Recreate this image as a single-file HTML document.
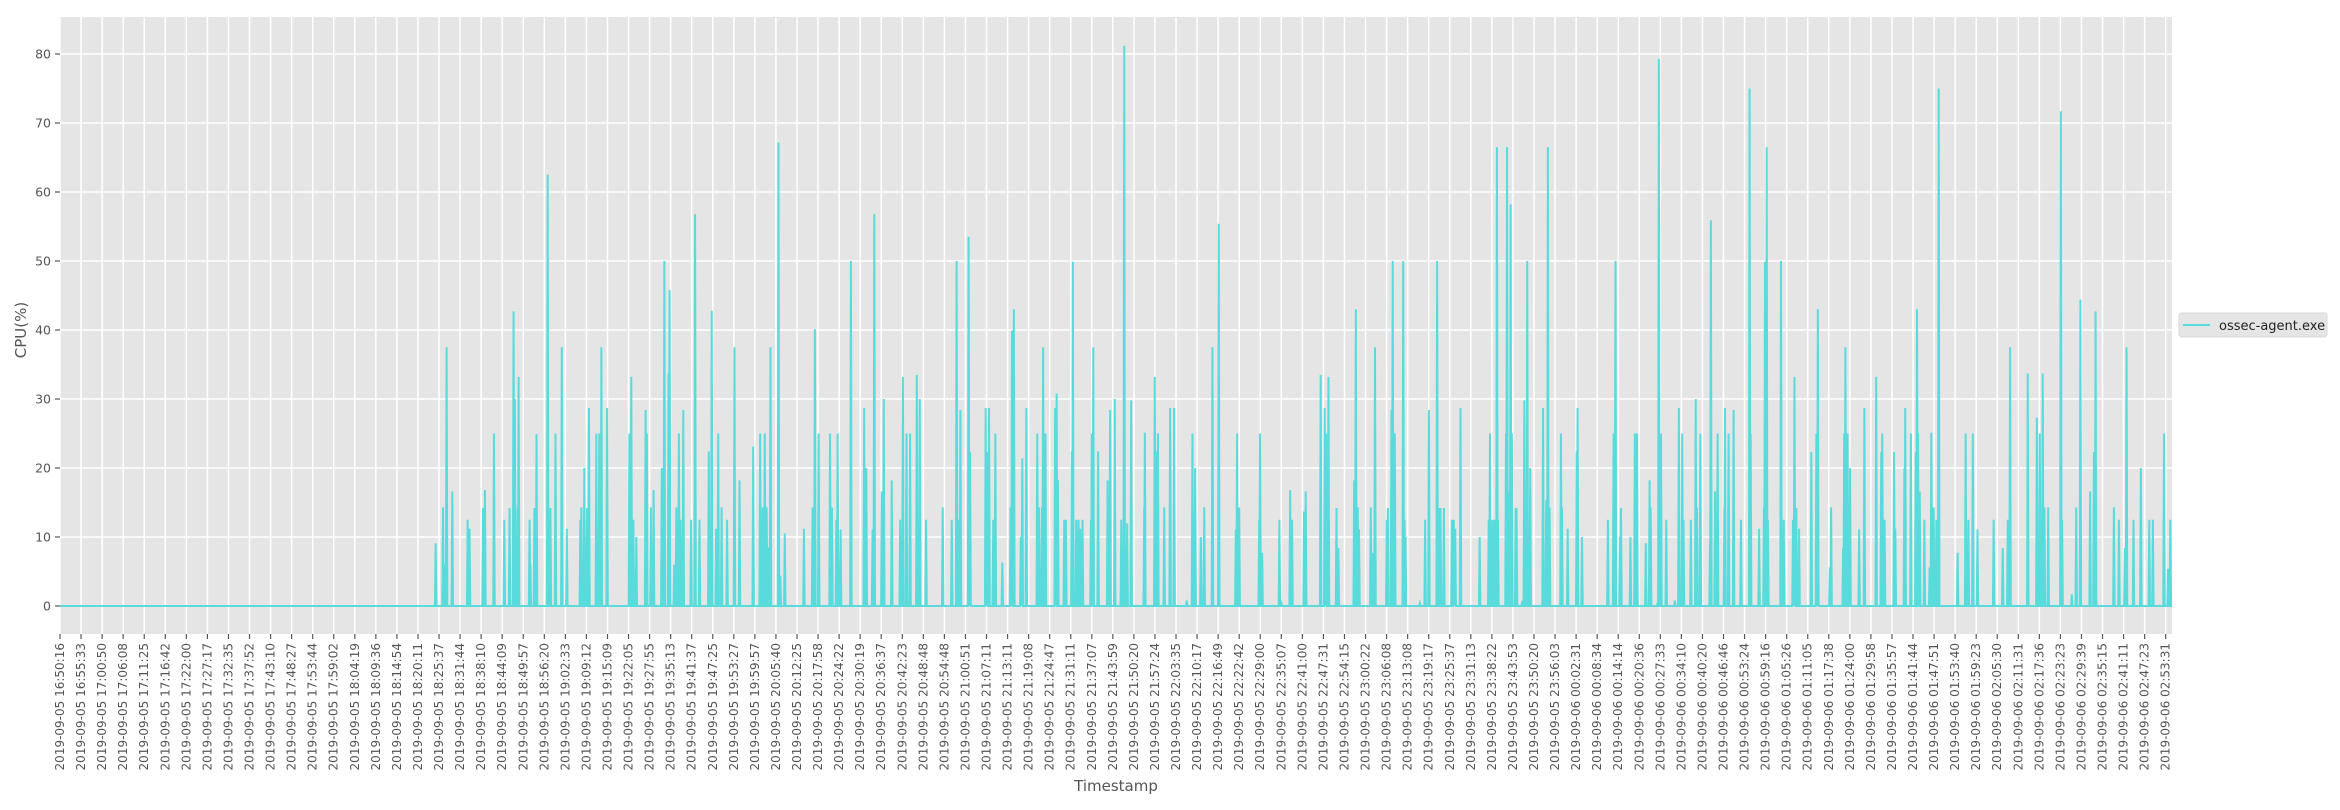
<!DOCTYPE html>
<html><head><meta charset="utf-8"><style>
html,body{margin:0;padding:0;background:#fff;}
svg{display:block;font-family:"DejaVu Sans","Liberation Sans",sans-serif;}
</style></head><body>
<svg id="chart" width="2340" height="810" viewBox="0 0 2340 810" xmlns="http://www.w3.org/2000/svg">
<rect x="60" y="17" width="2112" height="617" fill="#e5e5e5"/>
<g id="grid"></g>
<g id="xaxis"></g>
<g id="yaxis"></g>
<path id="series" fill="none" stroke="#59dbdb" stroke-width="2" stroke-linejoin="miter"/>
<text x="1116" y="791" font-size="15" fill="#555" text-anchor="middle">Timestamp</text>
<text x="26" y="330" font-size="15" fill="#555" text-anchor="middle" transform="rotate(-90 26 330)">CPU(%)</text>
<g>
<rect x="2179" y="313" width="148" height="24" rx="3" fill="#e5e5e5" stroke="#d8d8d8"/>
<line x1="2183" y1="325" x2="2210" y2="325" stroke="#59dbdb" stroke-width="2"/>
<text x="2219" y="330" font-size="13" fill="#222">ossec-agent.exe</text>
</g>
</svg>
<script>
const tickLabels = ["2019-09-05 16:50:16","2019-09-05 16:55:33","2019-09-05 17:00:50","2019-09-05 17:06:08","2019-09-05 17:11:25","2019-09-05 17:16:42","2019-09-05 17:22:00","2019-09-05 17:27:17","2019-09-05 17:32:35","2019-09-05 17:37:52","2019-09-05 17:43:10","2019-09-05 17:48:27","2019-09-05 17:53:44","2019-09-05 17:59:02","2019-09-05 18:04:19","2019-09-05 18:09:36","2019-09-05 18:14:54","2019-09-05 18:20:11","2019-09-05 18:25:37","2019-09-05 18:31:44","2019-09-05 18:38:10","2019-09-05 18:44:09","2019-09-05 18:49:57","2019-09-05 18:56:20","2019-09-05 19:02:33","2019-09-05 19:09:12","2019-09-05 19:15:09","2019-09-05 19:22:05","2019-09-05 19:27:55","2019-09-05 19:35:13","2019-09-05 19:41:37","2019-09-05 19:47:25","2019-09-05 19:53:27","2019-09-05 19:59:57","2019-09-05 20:05:40","2019-09-05 20:12:25","2019-09-05 20:17:58","2019-09-05 20:24:22","2019-09-05 20:30:19","2019-09-05 20:36:37","2019-09-05 20:42:23","2019-09-05 20:48:48","2019-09-05 20:54:48","2019-09-05 21:00:51","2019-09-05 21:07:11","2019-09-05 21:13:11","2019-09-05 21:19:08","2019-09-05 21:24:47","2019-09-05 21:31:11","2019-09-05 21:37:07","2019-09-05 21:43:59","2019-09-05 21:50:20","2019-09-05 21:57:24","2019-09-05 22:03:35","2019-09-05 22:10:17","2019-09-05 22:16:49","2019-09-05 22:22:42","2019-09-05 22:29:00","2019-09-05 22:35:07","2019-09-05 22:41:00","2019-09-05 22:47:31","2019-09-05 22:54:15","2019-09-05 23:00:22","2019-09-05 23:06:08","2019-09-05 23:13:08","2019-09-05 23:19:17","2019-09-05 23:25:37","2019-09-05 23:31:13","2019-09-05 23:38:22","2019-09-05 23:43:53","2019-09-05 23:50:20","2019-09-05 23:56:03","2019-09-06 00:02:31","2019-09-06 00:08:34","2019-09-06 00:14:14","2019-09-06 00:20:36","2019-09-06 00:27:33","2019-09-06 00:34:10","2019-09-06 00:40:20","2019-09-06 00:46:46","2019-09-06 00:53:24","2019-09-06 00:59:16","2019-09-06 01:05:26","2019-09-06 01:11:05","2019-09-06 01:17:38","2019-09-06 01:24:00","2019-09-06 01:29:58","2019-09-06 01:35:57","2019-09-06 01:41:44","2019-09-06 01:47:51","2019-09-06 01:53:40","2019-09-06 01:59:23","2019-09-06 02:05:30","2019-09-06 02:11:31","2019-09-06 02:17:36","2019-09-06 02:23:23","2019-09-06 02:29:39","2019-09-06 02:35:15","2019-09-06 02:41:11","2019-09-06 02:47:23","2019-09-06 02:53:31"];
const yTicks = [0,10,20,30,40,50,60,70,80];
// spike positions (in tick-interval units from first timestamp) and CPU values
const spikePos = [17.84,18.19,18.28,18.36,18.63,19.36,19.45,20.09,20.18,20.61,21.1,21.35,21.54,21.6,21.73,21.78,22.3,22.34,22.53,22.63,23.16,23.29,23.53,23.83,24.07,24.71,24.76,24.9,25.03,25.12,25.47,25.61,25.71,25.98,27.04,27.13,27.23,27.37,27.81,27.87,28.06,28.19,28.58,28.7,28.9,28.95,29.17,29.27,29.39,29.47,29.6,29.97,30.16,30.37,30.81,30.95,
31.16,31.26,31.42,31.68,32.03,32.27,32.92,33.25,33.37,33.47,33.56,33.66,33.74,34.12,34.21,34.42,35.33,35.74,35.85,36.03,36.57,36.66,36.87,36.93,37.07,37.56,38.19,38.29,38.59,38.67,39.03,39.12,39.5,39.9,40.03,40.2,40.37,40.69,40.83,41.13,41.92,42.35,42.58,42.68,42.76,43.15,43.22,43.96,44.03,44.12,44.32,44.42,44.75,
45.14,45.21,45.3,45.63,45.7,45.89,46.41,46.49,46.63,46.69,46.8,47.26,47.33,47.39,47.69,47.77,48.05,48.1,48.26,48.37,48.45,48.56,48.96,49.0,49.07,49.3,49.75,49.87,50.09,50.4,50.54,50.68,50.87,51.49,51.52,51.99,52.04,52.14,52.44,52.72,52.91,53.51,53.78,53.91,54.18,54.34,54.73,55.03,55.84,55.9,56.0,56.95,56.99,57.09,57.91,58.0,58.42,58.51,
59.08,59.16,59.87,60.06,60.13,60.24,60.62,60.71,61.46,61.54,61.63,61.69,62.25,62.36,62.45,63.01,63.06,63.23,63.29,63.39,63.79,63.85,63.9,64.58,64.83,65.01,65.4,65.48,65.56,65.72,66.1,66.19,66.26,66.51,67.42,67.85,67.91,68.03,68.13,68.24,68.29,68.67,68.72,68.78,68.89,68.95,69.13,69.17,69.43,69.54,69.68,69.78,69.82,70.43,70.58,70.66,70.74,71.28,71.33,71.6,72.03,72.07,72.28,
73.51,73.78,73.87,74.08,74.13,74.58,74.79,74.89,75.31,75.49,75.54,75.87,75.93,76.03,76.28,76.69,76.88,77.04,77.1,77.45,77.68,77.74,77.9,78.36,78.4,78.6,78.72,79.04,79.07,79.24,79.48,79.83,80.24,80.29,80.69,80.92,80.97,81.05,81.11,81.73,81.86,82.3,82.37,82.46,82.59,83.17,83.41,83.48,84.05,84.11,84.68,84.73,84.79,84.89,85.01,85.44,85.69,86.25,
86.49,86.54,86.65,87.1,87.16,87.59,87.63,87.9,88.13,88.19,88.24,88.32,88.54,88.79,88.87,88.98,89.11,89.22,90.12,90.5,90.63,90.84,91.06,91.83,92.26,92.5,92.61,93.45,93.88,94.02,94.16,94.24,94.42,95.02,95.08,95.54,95.75,95.95,96.41,96.59,96.67,97.54,97.78,98.06,98.14,98.47,98.82,99.22,99.39,99.92,100.11,100.22];
const spikeVal = [9.1,14.3,6,37.5,16.6,12.5,11.2,14.2,16.8,25,12.5,14.2,42.7,30,14.3,33.2,12.5,6,14.2,24.9,62.5,14.2,25,37.5,11.2,12.5,14.3,20,14.2,28.7,25,25,37.5,28.7,25,33.2,12.5,10,28.4,25,14.3,16.8,20,50,33.7,45.8,6,14.3,25,12.5,28.4,12.5,56.8,12.5,22.4,42.8,
11.2,25,14.3,12.5,37.5,18.2,23.1,25,14.3,25,14.3,8.5,37.5,67.2,4.4,10.5,11.2,14.3,40.1,25,25,14.3,12.5,25,11.1,50,28.7,20,11.1,56.8,16.6,30,18.2,12.5,33.2,25,25,33.5,30,12.5,14.3,12.5,50,12.5,28.4,53.5,22.3,28.7,22.3,28.7,12.5,25,6.3,
14.3,39.9,43,10,21.4,28.7,25,14.3,14.3,37.5,25,28.7,30.8,18.2,12.5,12.5,22.4,49.9,12.5,12.5,11.2,12.5,12.5,25,37.5,22.4,18.2,28.4,30,12.5,81.2,12,29.8,14.2,25.1,33.2,22.4,25,14.3,28.7,28.7,0.8,25,20,10,14.3,37.5,55.4,11.1,25,14.3,12.5,25,7.7,12.5,0.4,16.8,12.5,
13.7,16.6,33.5,28.7,25,33.2,14.2,8.4,18.2,43,14.3,11.1,14.3,7.7,37.5,12.5,14.2,28.4,50,25,50,12.5,10,0.4,12.5,28.4,50,14.2,14.2,14.2,12.5,12.5,11.2,28.7,10,12.5,25,12.5,12.5,66.5,12.5,25,66.5,16.6,58.2,25,14.2,14.2,0.4,29.8,50,11.2,20,28.7,15.3,66.5,14.3,25,14.3,11.2,22.4,28.7,10,
12.5,25,50,10,14.2,10,25,25,9.1,18.2,14.3,0.4,79.3,25,12.5,0.8,28.7,25,12.5,12.5,30,14.3,25,9.1,55.9,16.6,25,14.3,28.7,25,28.4,12.5,75,25,11.2,14.3,49.9,66.5,12.5,50,12.5,12.5,33.2,14.2,11.2,22.3,25,43,5.6,14.3,8.4,25,37.5,25,20,11.1,28.7,33.2,
22.3,25,12.5,22.3,11.2,20,28.7,25,22.3,43,25,16.6,12.5,5.6,25.1,14.3,12.5,75,7.7,25,12.5,25,11.1,12.5,8.4,12.5,37.5,33.7,27.3,25,33.7,14.3,14.3,71.7,12.5,1.7,14.3,44.4,16.6,22.3,42.7,14.3,12.5,8.4,37.5,12.5,20,12.5,12.5,25,5.4,12.5];
const seriesStart = 0, seriesEnd = 100.3;

const NS = "http://www.w3.org/2000/svg";
const X0 = 60, TICKW = 21.057, Y0 = 606, UNIT = 6.9;
function xScale(t){ return X0 + t*TICKW; }
function yScale(v){ return Y0 - v*UNIT; }
function mk(tag, attrs, parent){
  const e = document.createElementNS(NS, tag);
  for (const k in attrs) e.setAttribute(k, attrs[k]);
  parent.appendChild(e); return e;
}
const grid = document.getElementById('grid');
const xaxis = document.getElementById('xaxis');
const yaxis = document.getElementById('yaxis');
tickLabels.forEach((lab, i) => {
  const x = xScale(i);
  const g = mk('line', {x1:x, y1:17, x2:x, y2:634, stroke:'#fff', 'stroke-width':1.5}, grid);
  
  
  const tk = mk('line', {x1:x, y1:634, x2:x, y2:639, stroke:'#555', 'stroke-width':1.2}, xaxis);
  
  
  const t = mk('text', {x:x, y:643, 'font-size':12, fill:'#555', 'text-anchor':'end', 'dominant-baseline':'central', transform:'rotate(-90 '+x+' 643)'}, xaxis);
  
  
  t.textContent = lab;
});
yTicks.forEach(v => {
  const y = yScale(v);
  const g = mk('line', {x1:60, y1:y, x2:2172, y2:y, stroke:'#fff', 'stroke-width':1.5}, grid);
  
  
  const tk = mk('line', {x1:55, y1:y, x2:60, y2:y, stroke:'#555', 'stroke-width':1.2}, yaxis);
  
  
  const t = mk('text', {x:51, y:y, 'font-size':12.5, fill:'#555', 'text-anchor':'end', 'dominant-baseline':'central'}, yaxis);
  
  
  t.textContent = v;
});
const HALF = 0.035;
let d = 'M' + xScale(seriesStart) + ' ' + yScale(0);
spikePos.forEach((p, i) => {
  d += ' L' + xScale(p - HALF).toFixed(2) + ' ' + yScale(0);
  d += ' L' + xScale(p).toFixed(2) + ' ' + yScale(spikeVal[i]).toFixed(2);
  d += ' L' + xScale(p + HALF).toFixed(2) + ' ' + yScale(0);
});
d += ' L' + xScale(seriesEnd) + ' ' + yScale(0);
document.getElementById('series').setAttribute('d', d);
</script>
</body></html>
